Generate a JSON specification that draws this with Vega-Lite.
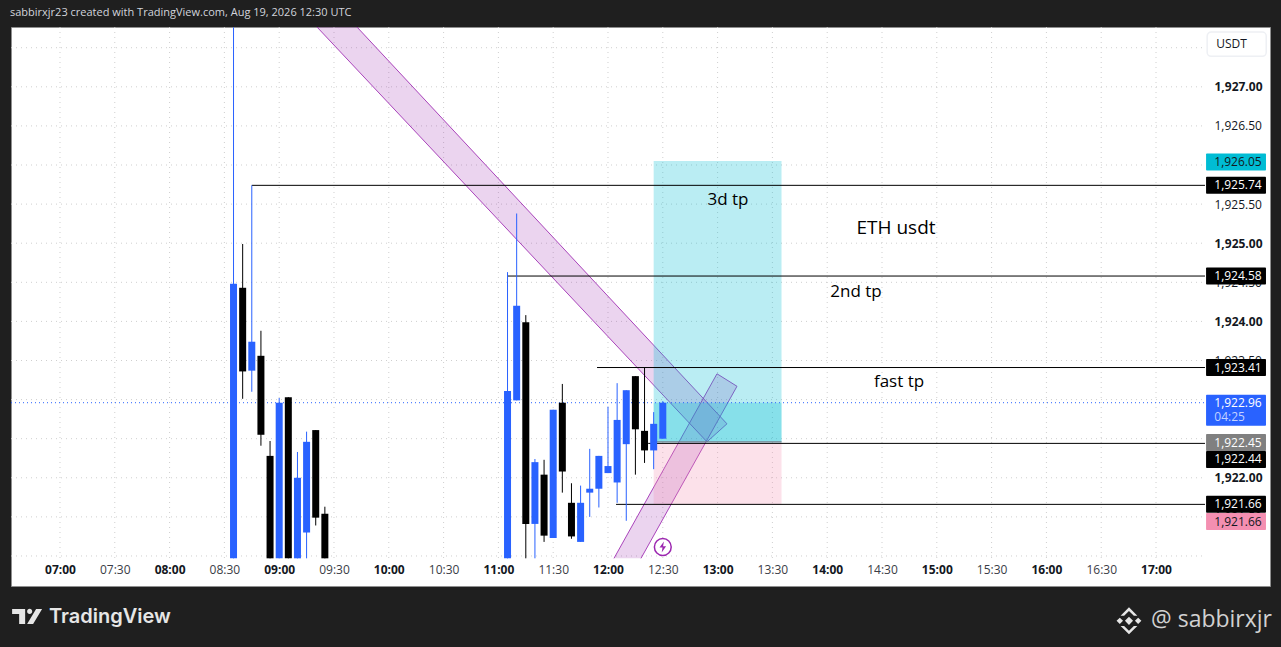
{
"$schema":"https://vega.github.io/schema/vega-lite/v6.json",
"width":1259,"height":559,
"padding":{"left":11,"top":27,"right":11,"bottom":61},
"autosize":{"type":"none"},
"background":"#1f1f1f",
"config":{"view":{"fill":"#ffffff","stroke":"#8f8f8f","strokeWidth":1},"font":"Open Sans"},
"title":{"text":"sabbirxjr23 created with TradingView.com, Aug 19, 2026 12:30 UTC","anchor":"start","frame":"group","fontSize":11,"fontWeight":"normal","color":"#d1d4dc","font":"Open Sans","offset":9,"dx":-1},
"datasets":{
"candles":[
{"time":"2026-08-19T08:35:00Z","open":1920.97,"high":1927.76,"low":1920.97,"close":1924.48},
{"time":"2026-08-19T08:40:00Z","open":1924.43,"high":1924.99,"low":1923.01,"close":1923.36},
{"time":"2026-08-19T08:45:00Z","open":1923.37,"high":1925.74,"low":1923.10,"close":1923.74},
{"time":"2026-08-19T08:50:00Z","open":1923.56,"high":1923.88,"low":1922.41,"close":1922.55},
{"time":"2026-08-19T08:55:00Z","open":1922.28,"high":1922.47,"low":1920.97,"close":1920.97},
{"time":"2026-08-19T09:00:00Z","open":1920.97,"high":1923.02,"low":1920.97,"close":1922.96},
{"time":"2026-08-19T09:05:00Z","open":1923.03,"high":1923.03,"low":1920.97,"close":1920.97},
{"time":"2026-08-19T09:10:00Z","open":1920.97,"high":1922.33,"low":1920.97,"close":1922.00},
{"time":"2026-08-19T09:15:00Z","open":1921.30,"high":1922.59,"low":1920.97,"close":1922.46},
{"time":"2026-08-19T09:20:00Z","open":1922.61,"high":1922.61,"low":1921.39,"close":1921.49},
{"time":"2026-08-19T09:25:00Z","open":1921.54,"high":1921.63,"low":1920.97,"close":1920.97},
{"time":"2026-08-19T11:05:00Z","open":1920.97,"high":1924.63,"low":1920.97,"close":1923.11},
{"time":"2026-08-19T11:10:00Z","open":1922.99,"high":1925.38,"low":1922.99,"close":1924.20},
{"time":"2026-08-19T11:15:00Z","open":1923.99,"high":1924.08,"low":1920.97,"close":1921.41},
{"time":"2026-08-19T11:20:00Z","open":1921.41,"high":1922.24,"low":1920.97,"close":1922.20},
{"time":"2026-08-19T11:25:00Z","open":1922.04,"high":1922.23,"low":1921.18,"close":1921.26},
{"time":"2026-08-19T11:30:00Z","open":1921.23,"high":1922.87,"low":1921.23,"close":1922.87},
{"time":"2026-08-19T11:35:00Z","open":1922.96,"high":1923.20,"low":1921.81,"close":1922.08},
{"time":"2026-08-19T11:40:00Z","open":1921.68,"high":1921.93,"low":1921.22,"close":1921.25},
{"time":"2026-08-19T11:45:00Z","open":1921.18,"high":1921.90,"low":1921.18,"close":1921.68},
{"time":"2026-08-19T11:50:00Z","open":1921.81,"high":1922.37,"low":1921.50,"close":1921.86},
{"time":"2026-08-19T11:55:00Z","open":1921.86,"high":1922.28,"low":1921.62,"close":1922.28},
{"time":"2026-08-19T12:00:00Z","open":1922.06,"high":1922.91,"low":1922.06,"close":1922.15},
{"time":"2026-08-19T12:05:00Z","open":1921.94,"high":1923.21,"low":1921.68,"close":1922.74},
{"time":"2026-08-19T12:10:00Z","open":1922.43,"high":1923.12,"low":1921.45,"close":1923.12},
{"time":"2026-08-19T12:15:00Z","open":1923.30,"high":1923.30,"low":1922.04,"close":1922.62},
{"time":"2026-08-19T12:20:00Z","open":1922.60,"high":1923.41,"low":1922.19,"close":1922.35},
{"time":"2026-08-19T12:25:00Z","open":1922.35,"high":1922.84,"low":1922.11,"close":1922.69},
{"time":"2026-08-19T12:30:00Z","open":1922.50,"high":1922.98,"low":1922.50,"close":1922.96}
],
"channels":[
{"name":"falling","n":1,"time":"2026-08-19T09:20:41Z","price":1927.765},
{"name":"falling","n":2,"time":"2026-08-19T12:54:11Z","price":1922.46},
{"name":"falling","n":3,"time":"2026-08-19T13:05:08Z","price":1922.69},
{"name":"falling","n":4,"time":"2026-08-19T09:42:35Z","price":1927.765},
{"name":"rising","n":1,"time":"2026-08-19T12:03:17Z","price":1920.97},
{"name":"rising","n":2,"time":"2026-08-19T12:59:40Z","price":1923.33},
{"name":"rising","n":3,"time":"2026-08-19T13:10:37Z","price":1923.17},
{"name":"rising","n":4,"time":"2026-08-19T12:18:04Z","price":1920.97}
],
"boxes":[
{"kind":"target","from":"2026-08-19T12:25:00Z","to":"2026-08-19T13:35:00Z","top":1926.05,"bottom":1922.45},
{"kind":"target","from":"2026-08-19T12:25:00Z","to":"2026-08-19T13:35:00Z","top":1922.96,"bottom":1922.45},
{"kind":"stop","from":"2026-08-19T12:25:00Z","to":"2026-08-19T13:35:00Z","top":1922.45,"bottom":1921.66}
],
"levels":[
{"from":"2026-08-19T08:45:00Z","to":"2026-08-19T17:26:49Z","price":1925.74},
{"from":"2026-08-19T11:05:00Z","to":"2026-08-19T17:26:49Z","price":1924.58},
{"from":"2026-08-19T11:54:00Z","to":"2026-08-19T17:26:49Z","price":1923.41},
{"from":"2026-08-19T12:22:00Z","to":"2026-08-19T17:26:49Z","price":1922.44},
{"from":"2026-08-19T12:04:24Z","to":"2026-08-19T17:26:49Z","price":1921.66}
],
"gridT":[
{"t":"2026-08-19T07:00:00Z"},{"t":"2026-08-19T07:30:00Z"},{"t":"2026-08-19T08:00:00Z"},{"t":"2026-08-19T08:30:00Z"},{"t":"2026-08-19T09:00:00Z"},{"t":"2026-08-19T09:30:00Z"},{"t":"2026-08-19T10:00:00Z"},{"t":"2026-08-19T10:30:00Z"},{"t":"2026-08-19T11:00:00Z"},{"t":"2026-08-19T11:30:00Z"},{"t":"2026-08-19T12:00:00Z"},{"t":"2026-08-19T12:30:00Z"},{"t":"2026-08-19T13:00:00Z"},{"t":"2026-08-19T13:30:00Z"},{"t":"2026-08-19T14:00:00Z"},{"t":"2026-08-19T14:30:00Z"},{"t":"2026-08-19T15:00:00Z"},{"t":"2026-08-19T15:30:00Z"},{"t":"2026-08-19T16:00:00Z"},{"t":"2026-08-19T16:30:00Z"},{"t":"2026-08-19T17:00:00Z"}
],
"gridP":[{"p":1927.5},{"p":1927},{"p":1926.5},{"p":1926},{"p":1925.5},{"p":1925},{"p":1924.5},{"p":1924},{"p":1923.5},{"p":1923},{"p":1922.5},{"p":1922},{"p":1921.5},{"p":1921}],
"tags":[
{"kind":"target","at":1926.04,"label":"1,926.05"},
{"kind":"level","at":1925.74,"label":"1,925.74"},
{"kind":"level","at":1924.58,"label":"1,924.58"},
{"kind":"level","at":1923.41,"label":"1,923.41"},
{"kind":"entry","at":1922.45,"label":"1,922.45"},
{"kind":"level","at":1922.235,"label":"1,922.44"},
{"kind":"level","at":1921.66,"label":"1,921.66"},
{"kind":"stop","at":1921.44,"label":"1,921.66"}
],
"notes":[
{"time":"2026-08-19T13:05:40Z","price":1925.55,"text":"3d tp"},
{"time":"2026-08-19T14:15:46Z","price":1924.38,"text":"2nd tp"},
{"time":"2026-08-19T14:39:19Z","price":1923.22,"text":"fast tp"}
]
},
"layer":[
{"data":{"name":"gridT"},"mark":{"type":"rule","color":"#cfcfcf","strokeWidth":1,"strokeDash":[1,4]},
 "encoding":{"x":{"field":"t","type":"temporal",
   "scale":{"type":"utc","domain":["2026-08-19T06:33:11Z","2026-08-19T18:02:24Z"],"padding":0},
   "axis":{"title":null,"orient":"bottom","offset":-28,"grid":false,"domain":false,"ticks":false,"labelPadding":6,"labelFontSize":12,"labelFont":"Open Sans","labelOverlap":false,"labelFlush":false,"labelBound":false,"format":"%H:%M",
     "values":["2026-08-19T07:00:00Z","2026-08-19T07:30:00Z","2026-08-19T08:00:00Z","2026-08-19T08:30:00Z","2026-08-19T09:00:00Z","2026-08-19T09:30:00Z","2026-08-19T10:00:00Z","2026-08-19T10:30:00Z","2026-08-19T11:00:00Z","2026-08-19T11:30:00Z","2026-08-19T12:00:00Z","2026-08-19T12:30:00Z","2026-08-19T13:00:00Z","2026-08-19T13:30:00Z","2026-08-19T14:00:00Z","2026-08-19T14:30:00Z","2026-08-19T15:00:00Z","2026-08-19T15:30:00Z","2026-08-19T16:00:00Z","2026-08-19T16:30:00Z","2026-08-19T17:00:00Z"],
     "labelFontWeight":{"condition":{"test":"utcminutes(datum.value)==0","value":700},"value":400},
     "labelColor":{"condition":{"test":"utcminutes(datum.value)==0","value":"#131722"},"value":"#3a3d46"}}},
  "y":{"datum":1927.765,"type":"quantitative",
   "scale":{"domain":[1920.616,1927.765],"nice":false,"zero":false,"padding":0},
   "axis":{"title":null,"orient":"right","offset":-65,"grid":false,"domain":false,"ticks":false,"labelPadding":9,"labelFontSize":12,"labelFont":"Open Sans","labelAlign":"left","labelOverlap":false,"labelFlush":false,"labelBound":false,"format":",.2f",
     "values":[1927,1926.5,1925.5,1925,1924.5,1924,1923.5,1923,1922.5,1922,1921.5],
     "labelFontWeight":{"condition":{"test":"datum.value%1==0","value":700},"value":400},
     "labelColor":"#131722"}},
  "y2":{"datum":1920.97}}},
{"data":{"name":"gridP"},"mark":{"type":"rule","color":"#cfcfcf","strokeWidth":1,"strokeDash":[1,4]},
 "encoding":{"x":{"datum":{"year":2026,"month":8,"date":19,"hours":6,"minutes":33,"seconds":11,"utc":true},"type":"temporal"},"x2":{"datum":{"year":2026,"month":8,"date":19,"hours":17,"minutes":26,"seconds":49,"utc":true}},"y":{"field":"p","type":"quantitative"}}},
{"data":{"name":"channels"},"mark":{"type":"line","interpolate":"linear-closed","fill":"#9c27b0","fillOpacity":0.2,"stroke":null,"clip":true},
 "encoding":{"x":{"field":"time","type":"temporal"},"y":{"field":"price","type":"quantitative"},"detail":{"field":"name"},"order":{"field":"n"}}},
{"data":{"name":"channels"},"mark":{"type":"line","color":"#9c27b0","strokeWidth":1,"opacity":0.85,"clip":true},
 "encoding":{"x":{"field":"time","type":"temporal"},"y":{"field":"price","type":"quantitative"},"detail":{"field":"name"},"order":{"field":"n"}}},
{"data":{"name":"boxes"},"mark":{"type":"rect","fillOpacity":0.27},
 "encoding":{"x":{"field":"from","type":"temporal"},"x2":{"field":"to"},"y":{"field":"top","type":"quantitative"},"y2":{"field":"bottom"},
  "color":{"condition":{"test":"datum.kind==='target'","value":"#00bcd4"},"value":"#f48fb1"}}},
{"data":{"values":[{"from":"2026-08-19T12:25:00Z","to":"2026-08-19T13:35:00Z","price":1922.46}]},"mark":{"type":"rule","color":"#787b86","strokeWidth":1},
 "encoding":{"x":{"field":"from","type":"temporal"},"x2":{"field":"to"},"y":{"field":"price","type":"quantitative"}}},
{"data":{"values":[{"from":"2026-08-19T06:33:11Z","to":"2026-08-19T17:26:49Z","price":1922.96}]},"mark":{"type":"rule","color":"#2962ff","strokeWidth":1,"strokeDash":[1,3]},
 "encoding":{"x":{"field":"from","type":"temporal"},"x2":{"field":"to"},"y":{"field":"price","type":"quantitative"}}},
{"data":{"name":"levels"},"mark":{"type":"rule","color":"#000000","strokeWidth":1},
 "encoding":{"x":{"field":"from","type":"temporal"},"x2":{"field":"to"},"y":{"field":"price","type":"quantitative"}}},
{"data":{"name":"candles"},"mark":{"type":"rule","strokeWidth":1},
 "encoding":{"x":{"field":"time","type":"temporal"},"y":{"field":"high","type":"quantitative"},"y2":{"field":"low"},
  "color":{"condition":{"test":"datum.close>=datum.open","value":"#2962ff"},"value":"#000000"}}},
{"data":{"name":"candles"},"mark":{"type":"bar","size":7,"orient":"vertical"},
 "encoding":{"x":{"field":"time","type":"temporal"},"y":{"field":"open","type":"quantitative"},"y2":{"field":"close"},
  "color":{"condition":{"test":"datum.close>=datum.open","value":"#2962ff"},"value":"#000000"}}},
{"data":{"name":"notes"},"mark":{"type":"text","font":"Open Sans","fontSize":17,"color":"#000000","align":"center","baseline":"middle"},
 "encoding":{"x":{"field":"time","type":"temporal"},"y":{"field":"price","type":"quantitative"},"text":{"field":"text"}}},
{"data":{"values":[{"time":"2026-08-19T14:37:40Z","price":1925.2,"text":"ETH usdt"}]},"mark":{"type":"text","font":"Open Sans","fontSize":19,"color":"#000000","align":"center","baseline":"middle"},
 "encoding":{"x":{"field":"time","type":"temporal"},"y":{"field":"price","type":"quantitative"},"text":{"field":"text"}}},
{"data":{"values":[{"time":"2026-08-19T12:30:00Z","price":1921.115}]},"mark":{"type":"point","shape":"circle","size":283,"stroke":"#9c27b0","strokeWidth":1.5,"fill":"#ffffff","fillOpacity":1},
 "encoding":{"x":{"field":"time","type":"temporal"},"y":{"field":"price","type":"quantitative"}}},
{"data":{"values":[{"time":"2026-08-19T12:30:00Z","price":1921.115}]},"mark":{"type":"point","shape":"M0.2,-1 L-0.6,0.1 L-0.05,0.1 L-0.2,1 L0.6,-0.15 L0.05,-0.15 Z","size":120,"fill":"#9c27b0","fillOpacity":1,"stroke":null},
 "encoding":{"x":{"field":"time","type":"temporal"},"y":{"field":"price","type":"quantitative"}}},
{"data":{"values":[{"from":"2026-08-19T17:28:00Z","to":"2026-08-19T18:00:20Z","top":1927.7,"bottom":1927.39}]},"mark":{"type":"rect","fill":"#ffffff","stroke":"#eef0f4","strokeWidth":1.5,"cornerRadius":4},
 "encoding":{"x":{"field":"from","type":"temporal"},"x2":{"field":"to"},"y":{"field":"top","type":"quantitative"},"y2":{"field":"bottom"}}},
{"data":{"values":[{"time":"2026-08-19T17:33:00Z","price":1927.55,"text":"USDT"}]},"mark":{"type":"text","font":"Open Sans","fontSize":12,"color":"#131722","align":"left","baseline":"middle"},
 "encoding":{"x":{"field":"time","type":"temporal"},"y":{"field":"price","type":"quantitative"},"text":{"field":"text"}}},
{"data":{"name":"tags"},"mark":{"type":"bar","orient":"horizontal","size":17,"cornerRadius":1},
 "encoding":{"x":{"datum":{"year":2026,"month":8,"date":19,"hours":17,"minutes":27,"seconds":24,"utc":true},"type":"temporal"},"x2":{"datum":{"year":2026,"month":8,"date":19,"hours":18,"minutes":0,"seconds":12,"utc":true}},"y":{"field":"at","type":"quantitative"},
  "color":{"condition":[{"test":"datum.kind==='target'","value":"#00bcd4"},{"test":"datum.kind==='stop'","value":"#f48fb1"},{"test":"datum.kind==='entry'","value":"#808080"}],"value":"#000000"}}},
{"data":{"values":[{"at":1922.863}]},"mark":{"type":"bar","orient":"horizontal","size":31,"cornerRadius":1,"color":"#2962ff"},
 "encoding":{"x":{"datum":{"year":2026,"month":8,"date":19,"hours":17,"minutes":27,"seconds":24,"utc":true},"type":"temporal"},"x2":{"datum":{"year":2026,"month":8,"date":19,"hours":18,"minutes":0,"seconds":12,"utc":true}},"y":{"field":"at","type":"quantitative"}}},
{"data":{"name":"tags"},"mark":{"type":"text","font":"Open Sans","fontSize":12,"align":"left","baseline":"middle"},
 "encoding":{"x":{"datum":{"year":2026,"month":8,"date":19,"hours":17,"minutes":31,"seconds":54,"utc":true},"type":"temporal"},"y":{"field":"at","type":"quantitative"},"text":{"field":"label"},
  "color":{"condition":{"test":"datum.kind==='target'||datum.kind==='stop'","value":"#131722"},"value":"#ffffff"},
  "fontWeight":{"condition":{"test":"datum.kind==='level'","value":600},"value":400}}},
{"data":{"values":[{"at":1922.96,"label":"1,922.96"}]},"mark":{"type":"text","font":"Open Sans","fontSize":12,"align":"left","baseline":"middle","color":"#ffffff"},
 "encoding":{"x":{"datum":{"year":2026,"month":8,"date":19,"hours":17,"minutes":31,"seconds":54,"utc":true},"type":"temporal"},"y":{"field":"at","type":"quantitative"},"text":{"field":"label"}}},
{"data":{"values":[{"at":1922.78,"label":"04:25"}]},"mark":{"type":"text","font":"Open Sans","fontSize":12,"align":"left","baseline":"middle","color":"#c3d2ff"},
 "encoding":{"x":{"datum":{"year":2026,"month":8,"date":19,"hours":17,"minutes":31,"seconds":54,"utc":true},"type":"temporal"},"y":{"field":"at","type":"quantitative"},"text":{"field":"label"}}},
{"data":{"values":[{"time":"2026-08-19T06:54:00Z","price":1920.22,"text":"TradingView"}]},"mark":{"type":"text","font":"Inter","fontWeight":600,"fontSize":20,"color":"#e6e6e6","align":"left","baseline":"middle"},
 "encoding":{"x":{"field":"time","type":"temporal"},"y":{"field":"price","type":"quantitative"},"text":{"field":"text"}}},
{"data":{"values":[{"time":"2026-08-19T18:03:30Z","price":1920.18,"text":"@ sabbirxjr"}]},"mark":{"type":"text","font":"Open Sans","fontSize":23,"color":"#d1d1d1","align":"right","baseline":"middle"},
 "encoding":{"x":{"field":"time","type":"temporal"},"y":{"field":"price","type":"quantitative"},"text":{"field":"text"}}},
{"data":{"values":[{"time":"2026-08-19T06:42:00Z","price":1920.22}]},"mark":{"type":"point","shape":"M-1,-0.53 L-0.13,-0.53 L-0.13,0.47 L-0.53,0.47 L-0.53,-0.2 L-1,-0.2 Z M0,-0.37 a0.17,0.17 0 1,0 0.34,0 a0.17,0.17 0 1,0 -0.34,0 Z M0.6,-0.53 L1,-0.53 L0.4,0.47 L0,0.47 Z","size":900,"fill":"#e6e6e6","fillOpacity":1,"stroke":null},
 "encoding":{"x":{"field":"time","type":"temporal"},"y":{"field":"price","type":"quantitative"}}},
{"data":{"values":[{"time":"2026-08-19T16:45:12Z","price":1920.17}]},"mark":{"type":"point","shape":"M0,-1 L0.62,-0.38 L0.36,-0.38 L0,-0.74 L-0.36,-0.38 L-0.62,-0.38 Z M0,1 L0.62,0.38 L0.36,0.38 L0,0.74 L-0.36,0.38 L-0.62,0.38 Z M-0.68,-0.24 L-0.44,0 L-0.68,0.24 L-0.92,0 Z M0.68,-0.24 L0.92,0 L0.68,0.24 L0.44,0 Z M0,-0.3 L0.3,0 L0,0.3 L-0.3,0 Z","size":729,"fill":"#e6e6e6","fillOpacity":1,"stroke":null},
 "encoding":{"x":{"field":"time","type":"temporal"},"y":{"field":"price","type":"quantitative"}}}
]
}
